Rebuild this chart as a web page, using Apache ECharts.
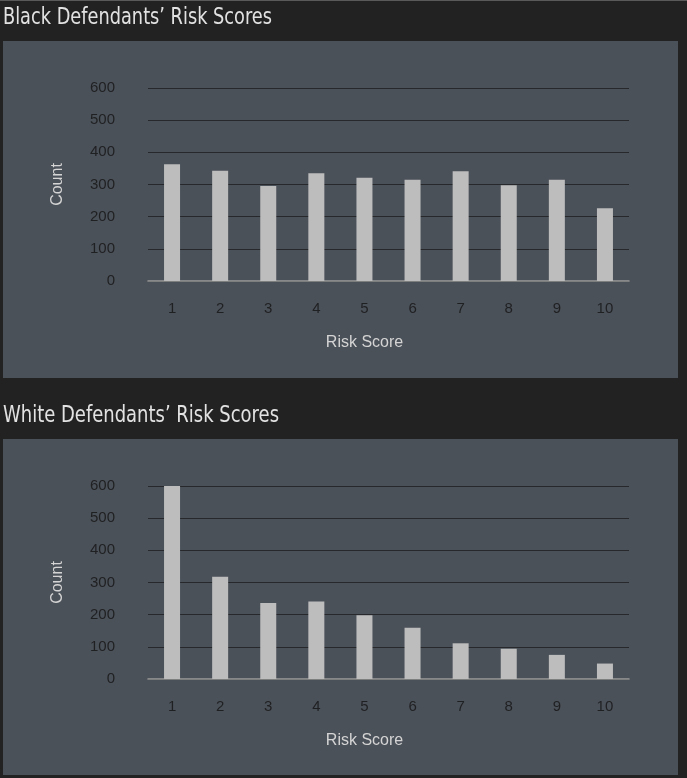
<!DOCTYPE html>
<html>
<head>
<meta charset="utf-8">
<script src="https://cdn.jsdelivr.net/npm/echarts@6/dist/echarts.min.js"></script>
<style>
html,body{margin:0;padding:0;background:#222;}
#c{width:687px;height:778px;}
</style>
</head>
<body>
<div id="c"></div>
<script>
const categories = ['1','2','3','4','5','6','7','8','9','10'];
const blackCounts = [363, 343, 295, 335, 321, 315, 341, 298, 315, 226];
const whiteCounts = [603, 318, 236, 241, 198, 159, 111, 94, 75, 48];
const yTicks = {min: 0, max: 600, interval: 100};
const titles = ['Black Defendants\u2019 Risk Scores', 'White Defendants\u2019 Risk Scores'];
const xName = 'Risk Score';
const yName = 'Count';

const chart = echarts.init(document.getElementById('c'), null, {renderer: 'canvas'});
const OFF = 398;
const panelColor = '#4b5159';
const tickFont = {color: '#1f2022', fontSize: 15, fontFamily: 'Liberation Sans, Arial, sans-serif'};
const nameFont = {color: '#d4d4d4', fontSize: 16, fontFamily: 'Liberation Sans, Arial, sans-serif', padding: [0, 48, 0, 0]};
const nameFontY = {color: '#d4d4d4', fontSize: 16, fontFamily: 'Liberation Sans, Arial, sans-serif'};

// measure title width to fit the narrow face of the original
const titleFont = '23px "DejaVu Sans Condensed", "DejaVu Sans", sans-serif';
const cv = document.createElement('canvas').getContext('2d');
cv.font = titleFont;
const targetW = [269, 276];

function xAxis(gi){
  return {
    type: 'category', gridIndex: gi, data: categories,
    axisLine: {show: true, lineStyle: {color: '#9a9a9a', width: 1.5}},
    axisTick: {show: false},
    axisLabel: Object.assign({margin: 20}, tickFont),
    name: xName, nameLocation: 'middle', nameGap: 54, nameTextStyle: nameFont
  };
}
function yAxis(gi){
  return {
    type: 'value', gridIndex: gi, min: yTicks.min, max: yTicks.max, interval: yTicks.interval,
    axisLine: {show: false}, axisTick: {show: false},
    axisLabel: Object.assign({margin: 33}, tickFont),
    splitLine: {show: true, lineStyle: {color: '#26282b', width: 1.2}},
    name: yName, nameLocation: 'middle', nameGap: 82, nameRotate: 90, nameTextStyle: nameFontY
  };
}

chart.setOption({
  backgroundColor: '#222222',
  animation: false,
  graphic: [
    {type: 'rect', z: -10, shape: {x: 0, y: 0, width: 687, height: 1}, style: {fill: '#5a5a5a'}},
    {type: 'rect', z: -10, shape: {x: 3, y: 41, width: 675, height: 337}, style: {fill: panelColor}},
    {type: 'rect', z: -10, shape: {x: 3, y: 41 + OFF, width: 675, height: 336}, style: {fill: panelColor}}
  ].concat(titles.map((t, i) => {
    const w = cv.measureText(t).width || targetW[i];
    return {
      type: 'text', x: 3, y: 7 + i * OFF, scaleX: targetW[i] / w,
      style: {text: t, fill: '#e2e2e2', font: titleFont, textVerticalAlign: 'top', verticalAlign: 'top'}
    };
  })),
  grid: [
    {left: 148, right: 58, top: 88, height: 193},
    {left: 148, right: 58, top: 88 + OFF, height: 193}
  ],
  xAxis: [xAxis(0), xAxis(1)],
  yAxis: [yAxis(0), yAxis(1)],
  series: [
    {type: 'bar', xAxisIndex: 0, yAxisIndex: 0, data: blackCounts, barWidth: 16, itemStyle: {color: '#bdbdbd'}},
    {type: 'bar', xAxisIndex: 1, yAxisIndex: 1, data: whiteCounts, barWidth: 16, itemStyle: {color: '#bdbdbd'}}
  ]
});
</script>
</body>
</html>
